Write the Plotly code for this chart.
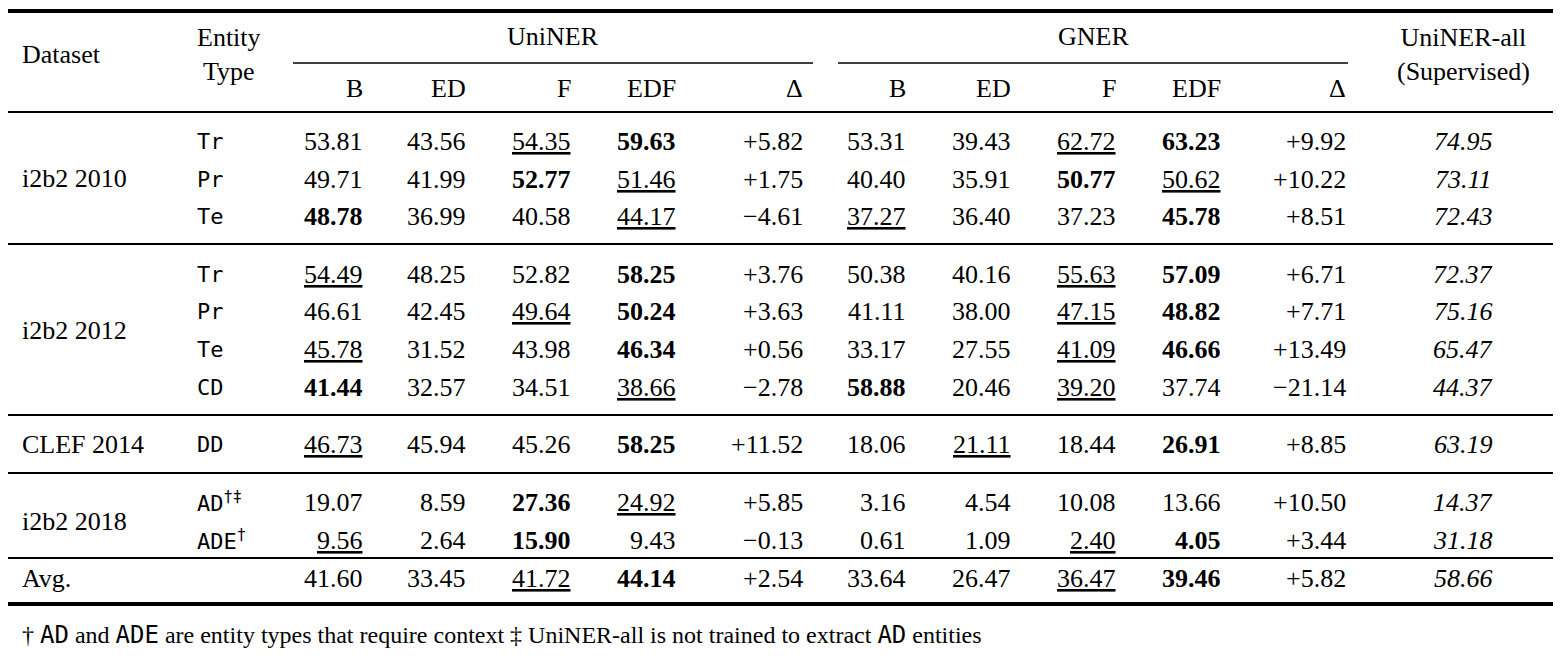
import plotly.graph_objects as go

datasets = ["i2b2 2010", "i2b2 2012", "CLEF 2014", "i2b2 2018", "Avg."]
dataset_rows = [[0, 1, 2], [3, 4, 5, 6], [7], [8, 9], [10]]
entity_types = ["Tr", "Pr", "Te", "Tr", "Pr", "Te", "CD", "DD", "AD<sup>†‡</sup>", "ADE<sup>†</sup>", ""]
sub_cols = ["B", "ED", "F", "EDF", "Δ"]

uniner = [
    [53.81, 43.56, 54.35, 59.63, "+5.82"],
    [49.71, 41.99, 52.77, 51.46, "+1.75"],
    [48.78, 36.99, 40.58, 44.17, "−4.61"],
    [54.49, 48.25, 52.82, 58.25, "+3.76"],
    [46.61, 42.45, 49.64, 50.24, "+3.63"],
    [45.78, 31.52, 43.98, 46.34, "+0.56"],
    [41.44, 32.57, 34.51, 38.66, "−2.78"],
    [46.73, 45.94, 45.26, 58.25, "+11.52"],
    [19.07, 8.59, 27.36, 24.92, "+5.85"],
    [9.56, 2.64, 15.90, 9.43, "−0.13"],
    [41.60, 33.45, 41.72, 44.14, "+2.54"],
]
uniner_style = [
    "..ub", "..bu", "b..u", "u..b", "..ub", "u..b", "b..u", "u..b", "..bu", "u.b.", "..ub",
]
gner = [
    [53.31, 39.43, 62.72, 63.23, "+9.92"],
    [40.40, 35.91, 50.77, 50.62, "+10.22"],
    [37.27, 36.40, 37.23, 45.78, "+8.51"],
    [50.38, 40.16, 55.63, 57.09, "+6.71"],
    [41.11, 38.00, 47.15, 48.82, "+7.71"],
    [33.17, 27.55, 41.09, 46.66, "+13.49"],
    [58.88, 20.46, 39.20, 37.74, "−21.14"],
    [18.06, 21.11, 18.44, 26.91, "+8.85"],
    [3.16, 4.54, 10.08, 13.66, "+10.50"],
    [0.61, 1.09, 2.40, 4.05, "+3.44"],
    [33.64, 26.47, 36.47, 39.46, "+5.82"],
]
gner_style = [
    "..ub", "..bu", "u..b", "..ub", "..ub", "..ub", "b.u.", ".u.b", "....", "..ub", "..ub",
]
supervised = [74.95, 73.11, 72.43, 72.37, 75.16, 65.47, 44.37, 63.19, 14.37, 31.18, 58.66]
footnote = ("† <span style='font-family:DejaVu Sans Mono'>AD</span> and "
            "<span style='font-family:DejaVu Sans Mono'>ADE</span> are entity types that require context "
            "‡ UniNER-all is not trained to extract <span style='font-family:DejaVu Sans Mono'>AD</span> entities")

# layout (pixel space)
W, H = 1561, 672
row_y = [133, 171, 208, 266, 303, 341, 379, 436, 494, 532, 570]
uni_x = [357, 460, 565, 670, 797]
gner_x = [900, 1005, 1110, 1215, 1340]
SERIF = "Liberation Serif"
MONO = "DejaVu Sans Mono"
FS = 26

ann = []
def add(x, y, text, anchor="right", font=SERIF, size=FS, underline=False, vanchor="middle"):
    f = dict(family=font, size=size, color="black")
    if underline:
        f["lineposition"] = "under"
    ann.append(dict(x=x, y=y, xref="x", yref="y", text=text, showarrow=False,
                    xanchor=anchor, yanchor=vanchor, font=f))

# headers
add(12, 46, "Dataset", "left")
add(187, 46, "Entity<br>Type", "left")
add((285 + 805) / 2, 28, "UniNER", "center")
add((830 + 1340) / 2, 28, "GNER", "center")
add(1455, 46, "UniNER-all<br>(Supervised)", "center")
for i, c in enumerate(sub_cols):
    add(uni_x[i], 80, c)
    add(gner_x[i], 80, c)

for d, rows in zip(datasets, dataset_rows):
    ys = [row_y[r] for r in rows]
    add(12, sum(ys) / len(ys), d, "left")

for r, y in enumerate(row_y):
    if entity_types[r]:
        add(187, y, entity_types[r], "left", font=MONO, size=22)
    for vals, styles, xs in ((uniner, uniner_style, uni_x), (gner, gner_style, gner_x)):
        for j in range(5):
            v = vals[r][j]
            t = v if isinstance(v, str) else f"{v:.2f}"
            st = styles[r][j] if j < 4 else "."
            if st == "b":
                add(xs[j], y, f"<b>{t}</b>")
            elif st == "u":
                add(xs[j], y, t, underline=True)
            else:
                add(xs[j], y, t)
    add(1455, y, f"<i>{supervised[r]:.2f}</i>", "center")

add(12, 627, footnote, "left", size=24)

# rules
def hline(y, x0=0, x1=W, w=2):
    return dict(type="line", xref="x", yref="y", x0=x0, x1=x1, y0=y, y1=y,
                line=dict(color="black", width=w))
shapes = [hline(3, w=4), hline(55, 285, 805, 1.5), hline(55, 830, 1340, 1.5),
          hline(104), hline(236), hline(407), hline(465), hline(550), hline(596, w=4)]

fig = go.Figure()
fig.add_trace(go.Scatter(x=[0, W], y=[0, H], mode="markers", marker=dict(opacity=0), hoverinfo="skip"))
fig.update_layout(
    width=W, height=H, margin=dict(l=0, r=0, t=0, b=0),
    paper_bgcolor="white", plot_bgcolor="white", showlegend=False,
    xaxis=dict(range=[0, W], visible=False, fixedrange=True),
    yaxis=dict(range=[H, 0], visible=False, fixedrange=True),
    annotations=ann, shapes=shapes,
)
fig.write_html("out.html")
